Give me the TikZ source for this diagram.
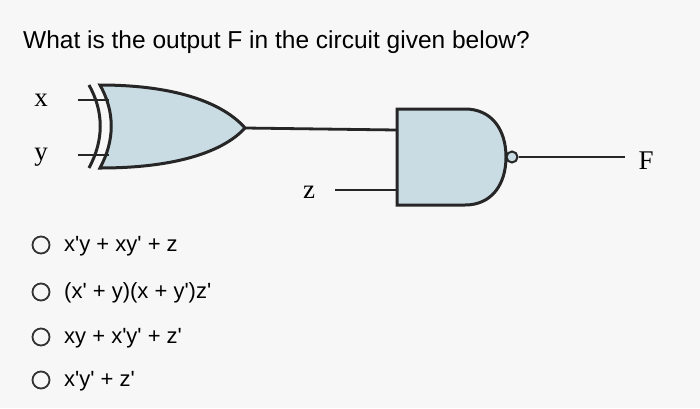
\documentclass[tikz,border=0pt]{standalone}
\usepackage{fontspec}
\usetikzlibrary{calc}
\setmainfont{Liberation Serif}
\newfontfamily\arial{Liberation Sans}
\definecolor{gatefill}{HTML}{C9DCE4}
\begin{document}
\begin{tikzpicture}[x=1pt,y=-1pt,
  wire/.style={line width=2.8pt,black!85},
  gate/.style={line width=3pt,draw=black!85,fill=gatefill},
  opt/.style={circle,draw=black!80,line width=1.8pt,minimum size=17pt,inner sep=0pt},
  optxt/.style={anchor=west,font=\arial\fontsize{22}{26}\selectfont,inner sep=0pt},
  lbl/.style={font=\fontsize{27}{30}\selectfont,inner sep=0pt}]
\fill[gray!6] (0,0) rectangle (700,408);
\useasboundingbox (0,0) rectangle (700,408);
\node[anchor=west,inner sep=0pt,font=\arial\fontsize{24.5}{28}\selectfont] (title) at (23,42) {What is the output F in the circuit given below?};
% labels
\node[lbl] (lx) at (41,100) {x};
\node[lbl] (ly) at (41,157) {y};
\node[lbl] (lz) at (309,192) {z};
\node[lbl] (lf) at (646,161) {F};
% XOR gate
\draw[gate] (100,85) .. controls (180,85) and (225,105) .. (245,128)
  .. controls (225,150) and (180,168) .. (100,168)
  .. controls (115,140) and (115,112) .. (100,85) -- cycle;
\draw[line width=3pt,black!85] (89,85) .. controls (104,112) and (104,140) .. (89,168);
\coordinate (xo) at (245,128);
\coordinate (xa) at (109,100);
\coordinate (xb) at (109,155);
\draw[wire] (78,100) coordinate (xs) -- (xa);
\draw[wire] (78,155) coordinate (ys) -- (xb);
% NAND gate
\draw[gate] (397,109) -- (465,109) .. controls (492,109) and (506,130) .. (506,157)
  .. controls (506,184) and (492,205) .. (465,205) -- (397,205) -- cycle;
\coordinate (na) at (397,130);
\coordinate (nb) at (397,190);
\node[circle,draw=black!85,line width=2pt,fill=gatefill,minimum size=11pt,inner sep=0pt] (bub) at (512,157) {};
\draw[wire] (xo) -- (na);
\draw[wire] (335,190) coordinate (zs) -- (nb);
\draw[wire] (bub.east) -- (625,157) coordinate (fe);
% options
\node[opt] (c1) at (41,245) {};
\node[opt] (c2) at (41,292) {};
\node[opt] (c3) at (41,337) {};
\node[opt] (c4) at (41,380) {};
\node[optxt] (t1) at (64,246) {x'y + xy' + z};
\node[optxt] (t2) at (64,293) {(x' + y)(x + y')z'};
\node[optxt] (t3) at (64,338) {xy + x'y' + z'};
\node[optxt] (t4) at (64,381) {x'y' + z'};
\end{tikzpicture}
\end{document}
